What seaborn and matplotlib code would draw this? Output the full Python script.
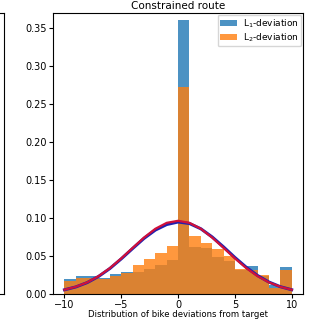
import numpy as np
import pandas as pd
import matplotlib
matplotlib.use("Agg")
import matplotlib.pyplot as plt
import seaborn as sns

# bin edges -10..10, width 1
bin_left = list(range(-10, 10))

# density per bin
l1_heights = [0.019, 0.023, 0.023, 0.021, 0.026, 0.029, 0.028, 0.033, 0.038, 0.044,
              0.3606, 0.062, 0.060, 0.049, 0.043, 0.031, 0.037, 0.024, 0.011, 0.035]
l2_heights = [0.017, 0.021, 0.021, 0.020, 0.023, 0.027, 0.0376, 0.0455, 0.054, 0.063,
              0.272, 0.0765, 0.0667, 0.059, 0.050, 0.033, 0.031, 0.025, 0.007, 0.031]

# fitted normal curves, sampled at integers
curve_x = list(range(-10, 11))
l1_curve = [0.0052, 0.0090, 0.0147, 0.0228, 0.0333, 0.0460, 0.0596, 0.0729, 0.0839, 0.0912,
            0.0945, 0.0925, 0.0856, 0.0748, 0.0617, 0.0478, 0.0349, 0.0240, 0.0154, 0.0093, 0.0053]
l2_curve = [0.0053, 0.0092, 0.0150, 0.0232, 0.0338, 0.0466, 0.0604, 0.0740, 0.0856, 0.0934,
            0.0961, 0.0934, 0.0856, 0.0740, 0.0604, 0.0466, 0.0338, 0.0232, 0.0150, 0.0092, 0.0053]

centers = [b + 0.5 for b in bin_left]
edges = bin_left + [10]
df1 = pd.DataFrame({"x": centers, "w": l1_heights})
df2 = pd.DataFrame({"x": centers, "w": l2_heights})

plt.rcParams["font.family"] = ["DejaVu Sans"]
fig = plt.figure(figsize=(3.2, 3.2), dpi=100)

# right edge of the neighbouring panel
ax0 = fig.add_axes([-0.3, 0.082, 0.3 + 3.5 / 320, 0.878])
ax0.set_xticks([])
ax0.set_yticks([])

ax = fig.add_axes([0.166, 0.082, 0.781, 0.878])
sns.histplot(data=df1, x="x", weights="w", bins=edges, stat="count",
             color="tab:blue", alpha=0.8, linewidth=0, ax=ax, label="L$_1$-deviation")
sns.histplot(data=df2, x="x", weights="w", bins=edges, stat="count",
             color="tab:orange", alpha=0.8, linewidth=0, ax=ax, label="L$_2$-deviation")
sns.lineplot(x=curve_x, y=l1_curve, color="#2020b0", linewidth=2.2, ax=ax)
sns.lineplot(x=curve_x, y=l2_curve, color="#d0103a", linewidth=1.6, ax=ax)

ax.set_xlim(-11, 11)
ax.set_ylim(0, 0.37)
ax.set_xticks([-10, -5, 0, 5, 10])
ax.set_yticks(np.arange(0, 0.351, 0.05))
ax.tick_params(labelsize=7, length=3, pad=1.5)
ax.set_ylabel("")
ax.set_xlabel("Distribution of bike deviations from target", fontsize=6.1, labelpad=0)
ax.set_title("Constrained route", fontsize=7.5, pad=3)
ax.legend(loc="upper right", fontsize=6.5, handlelength=1.9, handleheight=0.6,
          labelspacing=0.15, borderpad=0.3, handletextpad=0.6, borderaxespad=0.2)

fig.savefig("out.png", dpi=100)
